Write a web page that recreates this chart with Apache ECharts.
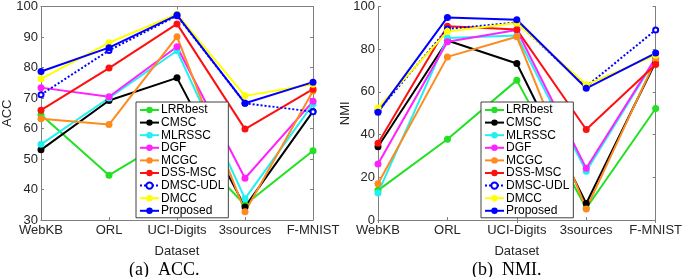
<!DOCTYPE html>
<html>
<head>
<meta charset="utf-8">
<script src="https://cdn.jsdelivr.net/npm/echarts@6/dist/echarts.min.js"></script>
<style>
  html, body { margin: 0; padding: 0; background: #fff; }
  #main { width: 685px; height: 277px; }
</style>
</head>
<body>
<div id="main"></div>
<script>
var datasets = ["WebKB", "ORL", "UCI-Digits", "3sources", "F-MNIST"];
var methods = ["LRRbest", "CMSC", "MLRSSC", "DGF", "MCGC", "DSS-MSC", "DMSC-UDL", "DMCC", "Proposed"];
var colors = ["#22e022", "#000000", "#22f0f0", "#ff22ff", "#ff8a1e", "#ff1010", "#0000ff", "#ffff00", "#0000ff"];

// ACC values (%)
var accLRRbest = [64.5, 44.7, 58, 35, 52.7];
var accCMSC = [53, 69.2, 76.6, 34.3, 65.6];
var accMLRSSC = [54.8, 70, 85.5, 37, 68];
var accDGF = [73.4, 70.4, 86.8, 43.7, 68.9];
var accMCGC = [63.2, 61.3, 90.1, 32.7, 72.3];
var accDSSMSC = [66, 79.8, 94.3, 59.8, 72.9];
var accDMSCUDL = [71.1, 85.6, 97, 68.3, 65.5];
var accDMCC = [76.3, 88.1, 97.5, 70.7, 74.5];
var accProposed = [78.7, 86.5, 97.2, 68.3, 75.2];

// NMI values (%)
var nmiLRRbest = [13.9, 37.8, 65.4, 5.5, 52.2];
var nmiCMSC = [34.3, 84.1, 73.3, 7.7, 74];
var nmiMLRSSC = [12.7, 85.3, 86.4, 22.8, 75.5];
var nmiDGF = [26.2, 83.5, 89, 24.2, 76];
var nmiMCGC = [17, 76.4, 85.8, 5.2, 75];
var nmiDSSMSC = [36, 90.7, 89.2, 42.4, 72.8];
var nmiDMSCUDL = [51, 89.5, 92.5, 62.5, 89];
var nmiDMCC = [52.5, 88.3, 92.3, 63.3, 77.2];
var nmiProposed = [50.5, 94.9, 93.8, 61.7, 78.2];

var accData = [accLRRbest, accCMSC, accMLRSSC, accDGF, accMCGC, accDSSMSC, accDMSCUDL, accDMCC, accProposed];
var nmiData = [nmiLRRbest, nmiCMSC, nmiMLRSSC, nmiDGF, nmiMCGC, nmiDSSMSC, nmiDMSCUDL, nmiDMCC, nmiProposed];

var accTicks = [30, 100, 10];
var nmiTicks = [0, 100, 20];

var font = "Liberation Sans, Arial, sans-serif";
var axisColor = "#808080";
var textColor = "#262626";

function xAxes(grid, name) {
  return [
    {
      type: "category", gridIndex: grid, data: datasets, boundaryGap: false,
      name: name, nameLocation: "middle", nameGap: 25, nameMoveOverlap: false,
      nameTextStyle: { fontFamily: font, fontSize: 13, color: textColor },
      axisLine: { lineStyle: { color: axisColor } },
      axisTick: { inside: true, length: 3, lineStyle: { color: axisColor } },
      axisLabel: { fontFamily: font, fontSize: 13, color: textColor, margin: 4, interval: 0 },
      splitLine: { show: false },
    },
    {
      type: "category", gridIndex: grid, data: datasets, boundaryGap: false, position: "top",
      axisLine: { lineStyle: { color: axisColor } },
      axisTick: { inside: true, length: 3, lineStyle: { color: axisColor } },
      axisLabel: { show: false },
      splitLine: { show: false },
    },
  ];
}

function yAxes(grid, name, t, gap) {
  return [
    {
      type: "value", gridIndex: grid, min: t[0], max: t[1], interval: t[2],
      name: name, nameLocation: "middle", nameGap: gap, nameMoveOverlap: false,
      nameTextStyle: { fontFamily: font, fontSize: 13, color: textColor },
      axisLine: { show: true, lineStyle: { color: axisColor } },
      axisTick: { show: true, inside: true, length: 3, lineStyle: { color: axisColor } },
      axisLabel: { fontFamily: font, fontSize: 13, color: textColor, margin: 3 },
      splitLine: { show: false },
    },
    {
      type: "value", gridIndex: grid, min: t[0], max: t[1], interval: t[2], position: "right",
      axisLine: { show: true, lineStyle: { color: axisColor } },
      axisTick: { show: true, inside: true, length: 3, lineStyle: { color: axisColor } },
      axisLabel: { show: false },
      splitLine: { show: false },
    },
  ];
}

function buildSeries(data, grid) {
  return methods.map(function (m, i) {
    var dotted = m === "DMSC-UDL";
    return {
      name: m,
      type: "line",
      xAxisIndex: grid * 2,
      yAxisIndex: grid * 2,
      data: data[i],
      symbol: dotted ? "emptyCircle" : "circle",
      symbolSize: dotted ? 5 : 7,
      lineStyle: { color: colors[i], width: 2, type: dotted ? "dotted" : "solid" },
      itemStyle: { color: colors[i], borderColor: colors[i], borderWidth: dotted ? 1.5 : 0 },
      emphasis: { disabled: true },
      animation: false,
    };
  });
}

function legend(left) {
  return {
    data: methods,
    orient: "vertical",
    left: left,
    top: 102,
    itemWidth: 19,
    itemHeight: 8,
    itemGap: 0.6,
    padding: [2, 4, 1, 3],
    backgroundColor: "#fff",
    borderColor: "#404040",
    borderWidth: 1,
    textStyle: { fontFamily: font, fontSize: 12, color: "#000", lineHeight: 11, padding: [0, 0, 0, -3] },
    selectedMode: false,
  };
}

var chartDom = document.getElementById("main");
var myChart = echarts.init(chartDom, null, { renderer: "canvas" });
var option;

option = {
  backgroundColor: "#fff",
  grid: [
    { left: 37, top: 4, width: 276, height: 216 },
    { left: 378, top: 4, width: 280, height: 216 },
  ],
  xAxis: xAxes(0, "Dataset").concat(xAxes(1, "Dataset")),
  yAxis: yAxes(0, "ACC", accTicks, 27).concat(yAxes(1, "NMI", nmiTicks, 26)),
  legend: [legend(136), legend(481)],
  series: buildSeries(accData, 0).concat(buildSeries(nmiData, 1)),
  graphic: [
    { type: "text", left: 129, top: 261, style: { text: "(a)  ACC.", font: "18px Liberation Serif, Times New Roman, serif", fill: "#000" } },
    { type: "text", left: 472, top: 261, style: { text: "(b)  NMI.", font: "18px Liberation Serif, Times New Roman, serif", fill: "#000" } },
  ],
};

option && myChart.setOption(option);
</script>
</body>
</html>
